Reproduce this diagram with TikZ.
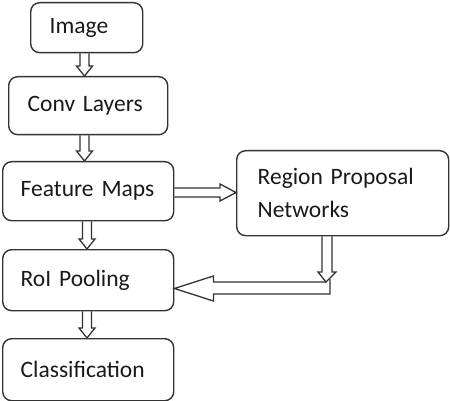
\documentclass[tikz,border=0pt]{standalone}
\usepackage{fontspec}
\setmainfont{Carlito}
\usetikzlibrary{calc}
\tikzset{
  box/.style={draw=black!80, line width=1.4pt, rounded corners=9pt, anchor=north west,
    align=left, font=\fontsize{23.5}{33}\selectfont, text=black!90, inner ysep=0pt},
  conn/.style={draw=black!80, line width=1.3pt, line join=miter},
}
\newcommand\downconn[3]{% from, to, x center
  \draw[conn] let \p1=(#1.south), \p2=(#2.north) in
    (#3pt-4.5pt,\y1) -- (#3pt-4.5pt,\y2+10pt) -- (#3pt-8pt,\y2+10pt) -- (#3pt,\y2)
    -- (#3pt+8pt,\y2+10pt) -- (#3pt+4.5pt,\y2+10pt) -- (#3pt+4.5pt,\y1);}
\begin{document}
\begin{tikzpicture}[x=1pt,y=-1pt]
\useasboundingbox (0,0) rectangle (450,401);
\node[box, inner xsep=19pt, text width=74pt, minimum height=50pt] (img) at (30,2) {Image};
\node[box, inner xsep=19pt, text width=121pt, minimum height=58pt] (conv) at (8,76) {Conv Layers};
\node[box, inner xsep=18pt, text width=135pt, minimum height=59pt] (feat) at (2,161) {Feature Maps};
\node[box, inner xsep=18pt, text width=135pt, minimum height=61pt] (roi) at (2,249) {RoI Pooling};
\node[box, inner xsep=18pt, text width=135pt, minimum height=62pt] (cls) at (2,338) {Classification};
\node[box, inner xsep=21pt, text width=170pt, minimum height=85pt] (rpn) at (236,150) {Region Proposal\\Networks};
% vertical connectors
\downconn{img}{conv}{84.5}
\downconn{conv}{feat}{84.5}
\downconn{feat}{roi}{87}
\downconn{roi}{cls}{87}
% feature maps -> RPN
\draw[conn] let \p1=(feat.east), \p2=(rpn.west) in
  (\x1,-188pt) -- (\x2-16pt,-188pt) -- (\x2-16pt,-184pt) -- (\x2,-192.5pt)
  -- (\x2-16pt,-201pt) -- (\x2-16pt,-197pt) -- (\x1,-197pt);
% RPN -> RoI pooling
\coordinate (bend) at (326,282);
\draw[conn] let \p1=(rpn.south), \p2=(bend) in
  (322pt,\y1) -- (322pt,\y2+10pt) -- (318pt,\y2+10pt) -- (\x2,\y2)
  -- (336pt,\y2+10pt) -- (332pt,\y2+10pt) -- (332pt,\y1);
\draw[conn] let \p1=(roi.east), \p2=(bend) in
  (\x2,\y2) -- (\x1+39pt,\y2) -- (\x1+39pt,\y2+6pt) -- (\x1,\y2-6.5pt)
  -- (\x1+39pt,\y2-19pt) -- (\x1+39pt,\y2-12pt) -- (330pt,\y2-12pt) -- (330pt,\y2+3pt);
\end{tikzpicture}
\end{document}
